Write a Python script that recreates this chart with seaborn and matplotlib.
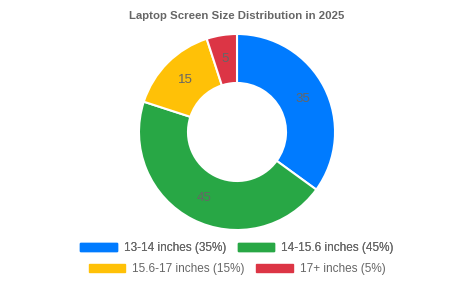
import matplotlib
matplotlib.use("Agg")
import matplotlib.pyplot as plt
import matplotlib.patches as mpatches
import seaborn as sns

categories = ["13-14 inches", "14-15.6 inches", "15.6-17 inches", "17+ inches"]
shares = [35, 45, 15, 5]
colors = ["#007bff", "#28a745", "#ffc107", "#dc3545"]

sns.set_theme(style="white")
plt.rcParams["font.family"] = ["Liberation Sans", "DejaVu Sans"]

fig = plt.figure(figsize=(4.74, 2.84), dpi=100)
ax = fig.add_axes([138 / 474, 53 / 284, 198 / 474, 198 / 284])

wedges, texts, autotexts = ax.pie(
    shares, colors=colors, startangle=90, counterclock=False,
    radius=1, pctdistance=0.75,
    autopct=lambda p: f"{p:.0f}",
    wedgeprops=dict(width=0.5, edgecolor="white", linewidth=1.5),
    textprops=dict(color="#666666", fontsize=9.5),
)
ax.set_xlim(-1.01, 1.01)
ax.set_ylim(-1.01, 1.01)
ax.set_aspect("equal")

fig.text(0.5, 1 - 16 / 284, "Laptop Screen Size Distribution in 2025",
         ha="center", va="center", fontsize=8.2, fontweight="bold", color="#666666")

handles = [mpatches.Patch(color=c, label=f"{cat} ({s}%)")
           for cat, s, c in zip(categories, shares, colors)]
leg_kw = dict(ncol=2, frameon=False, fontsize=8.5, handlelength=3.1, handleheight=0.7,
              handletextpad=0.6, columnspacing=0.95, labelcolor="#666666",
              borderpad=0, borderaxespad=0)
leg1 = fig.legend(handles=handles[:2], loc="center", bbox_to_anchor=(0.5, 1 - 248 / 284), **leg_kw)
fig.legend(handles=handles[2:], loc="center", bbox_to_anchor=(0.5, 1 - 269 / 284), **leg_kw)
fig.add_artist(leg1)

fig.savefig("out.png", dpi=100)
